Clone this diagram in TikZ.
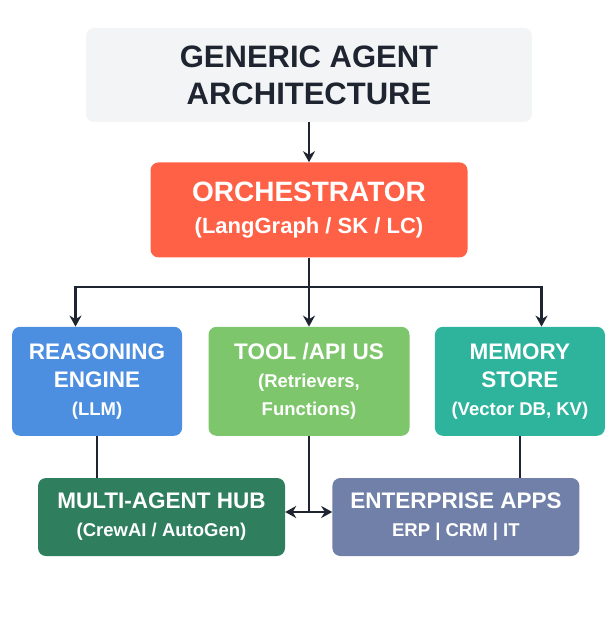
\documentclass[tikz,border=0pt]{standalone}
\usepackage{fontspec}
\setmainfont{Liberation Sans}
\definecolor{agTitle}{RGB}{243,244,246}
\definecolor{agInk}{RGB}{30,36,48}
\definecolor{agOrange}{RGB}{255,97,71}
\definecolor{agBlue}{RGB}{76,142,223}
\definecolor{agGreen}{RGB}{126,198,107}
\definecolor{agTeal}{RGB}{46,179,156}
\definecolor{agDark}{RGB}{47,127,95}
\definecolor{agSlate}{RGB}{112,128,168}
\newcommand{\subtxt}{\fontsize{18.5}{25}\selectfont}
\usetikzlibrary{arrows.meta,positioning,calc}

\begin{document}
\begin{tikzpicture}[x=1pt, y=-1pt,
  blk/.style={rounded corners=8pt, align=center, text=white, inner sep=0pt,
              font=\fontsize{22.5}{28}\selectfont\bfseries},
  arr/.style={-{Stealth[length=11pt, width=12pt]}, line width=2.3pt, agInk},
  lnk/.style={line width=2.3pt, agInk}
]
  \useasboundingbox (0,0) rectangle (614,617);

  \node[blk, fill=agTitle, text=agInk, minimum width=446pt, minimum height=94pt,
        font=\fontsize{31}{37}\selectfont\bfseries] (title) at (309,75)
        {GENERIC AGENT\\ARCHITECTURE};
  \node[blk, fill=agOrange, minimum width=317pt, minimum height=95pt,
        font=\fontsize{28}{32}\selectfont\bfseries, below=40pt of title] (orch)
        {ORCHESTRATOR\\{\fontsize{22}{25}\selectfont(LangGraph / SK / LC)}};

  \node[blk, fill=agGreen, minimum width=201pt, minimum height=109pt,
        below=69pt of orch] (tool)
        {TOOL /API US\\{\subtxt (Retrievers,}\\{\subtxt Functions)}};
  \node[blk, fill=agBlue, minimum width=170pt, minimum height=109pt,
        left=26pt of tool] (reason)
        {REASONING\\ENGINE\\{\subtxt (LLM)}};
  \node[blk, fill=agTeal, minimum width=170pt, minimum height=109pt,
        right=25pt of tool] (mem)
        {MEMORY\\STORE\\{\subtxt (Vector DB, KV)}};

  \node[blk, fill=agDark, minimum width=247pt, minimum height=78pt] (hub) at (161.5,517)
        {MULTI-AGENT HUB\\{\subtxt (CrewAI / AutoGen)}};
  \node[blk, fill=agSlate, minimum width=247pt, minimum height=78pt, right=47pt of hub] (apps)
        {ENTERPRISE APPS\\{\subtxt ERP | CRM | IT}};

  % orchestrator fan-out
  \coordinate (bus)  at ($(orch.south)+(0,30)$);
  \coordinate (busL) at (75.5,287);
  \coordinate (busR) at (541.5,287);
  \coordinate (mid)  at ($(tool.south |- hub.east)+(0,-5)$);

  \draw[arr] (title) -- (orch);
  \draw[lnk] (orch) -- (bus);
  \draw[lnk, line cap=rect] (busL) -- (busR);
  \draw[arr] (busL) -- (busL |- reason.north);
  \draw[arr] (bus) -- (tool);
  \draw[arr] (busR) -- (busR |- mem.north);

  \draw[lnk] (reason) -- (reason.south |- hub.north);
  \draw[lnk] (mem) -- (mem.south |- apps.north);
  \draw[lnk] (tool) -- (mid);
  \draw[arr, {Stealth[length=11pt, width=12pt]}-{Stealth[length=11pt, width=12pt]}]
    (mid -| hub.east) -- (mid -| apps.west);
\end{tikzpicture}
\end{document}
